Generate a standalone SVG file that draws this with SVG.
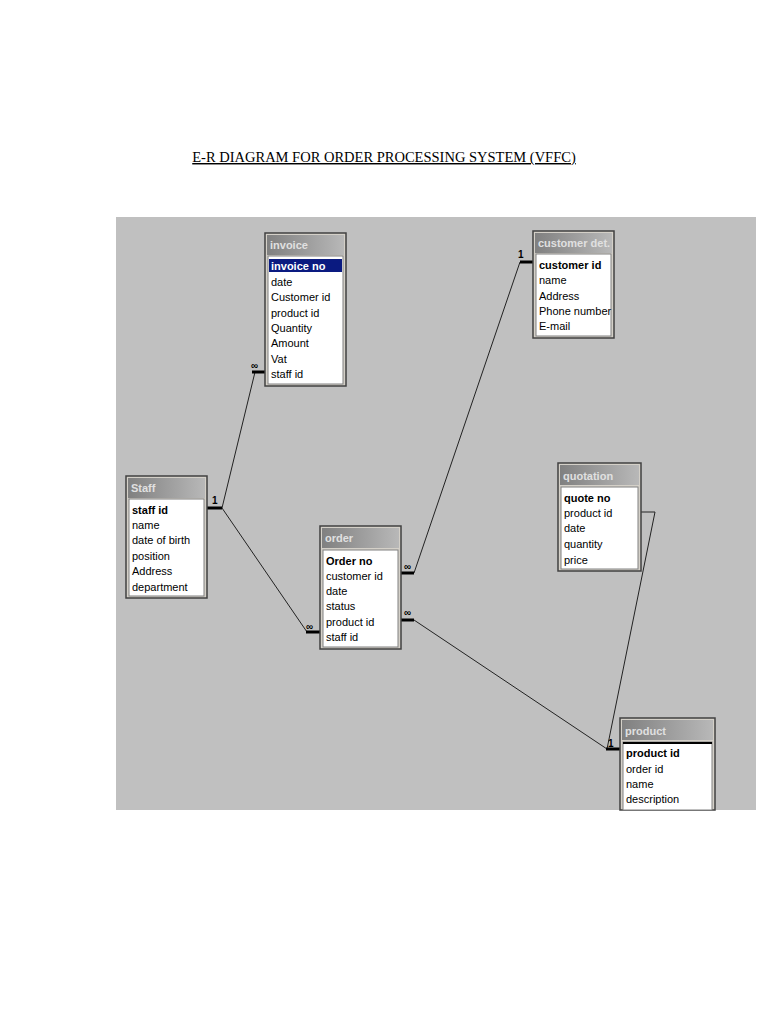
<svg xmlns="http://www.w3.org/2000/svg" width="768" height="1024" viewBox="0 0 768 1024">
<style>
.t{font-family:"Liberation Sans",Arial,sans-serif;font-size:11px;fill:#000}
.b{font-weight:bold}
.h{font-family:"Liberation Sans",Arial,sans-serif;font-size:11px;fill:#e0e0e0;font-weight:bold}
.card{fill:#d4d0c8;stroke:#404040;stroke-width:1.5}
.list{fill:#fff;stroke:#808080;stroke-width:1}
.ln{stroke:#222;stroke-width:1;fill:none}
.stub{stroke:#000;stroke-width:3}
.m{font-family:"Liberation Sans",Arial,sans-serif;font-size:10px;font-weight:bold;fill:#000}
</style>
<defs>
<linearGradient id="g" x1="0" x2="1"><stop offset="0" stop-color="#808080"/><stop offset="1" stop-color="#b8b8b8"/></linearGradient>
</defs>
<rect width="768" height="1024" fill="#fff"/>
<text x="384" y="162" text-anchor="middle" font-family="Liberation Serif,serif" font-size="14.5" text-decoration="underline">E-R DIAGRAM FOR ORDER PROCESSING SYSTEM (VFFC)</text>
<rect x="116" y="217" width="640" height="593" fill="#c0c0c0"/>
<g id="connectors">
<path class="ln" d="M222,508 L255,372"/>
<path class="ln" d="M222,508 L307,632"/>
<path class="ln" d="M414,573 L520,262"/>
<path class="ln" d="M414,620 L607,749"/>
<path class="ln" d="M641,512 L655,512 L607,749"/>
<line class="stub" x1="207" y1="508" x2="222" y2="508"/>
<line class="stub" x1="252" y1="372" x2="266" y2="372"/>
<line class="stub" x1="306" y1="632" x2="320" y2="632"/>
<line class="stub" x1="401" y1="573" x2="414" y2="573"/>
<line class="stub" x1="520" y1="262" x2="533" y2="262"/>
<line class="stub" x1="401" y1="620" x2="414" y2="620"/>
<line class="stub" x1="606" y1="749" x2="620" y2="749"/>
<text class="m" x="212" y="504">1</text>
<text class="m" x="251" y="369">∞</text>
<text class="m" x="306" y="630">∞</text>
<text class="m" x="404" y="570">∞</text>
<text class="m" x="518" y="258">1</text>
<text class="m" x="404" y="616">∞</text>
<text class="m" x="608" y="747">1</text>
</g>
<g id="invoice">
<rect class="card" x="265" y="233" width="81" height="153"/>
<rect x="267" y="235" width="77" height="20" fill="url(#g)"/>
<text class="h" x="270" y="249">invoice</text>
<rect class="list" x="268" y="256" width="75" height="128"/>
<rect x="269" y="259" width="73" height="13" fill="#0a1a80"/>
<text class="t b" x="271" y="270" fill="#fff" style="fill:#fff">invoice no</text>
<text class="t" x="271" y="286">date</text>
<text class="t" x="271" y="301">Customer id</text>
<text class="t" x="271" y="317">product id</text>
<text class="t" x="271" y="332">Quantity</text>
<text class="t" x="271" y="347">Amount</text>
<text class="t" x="271" y="363">Vat</text>
<text class="t" x="271" y="378">staff id</text>
</g>
<g id="customer">
<rect class="card" x="533" y="231" width="81" height="107"/>
<rect x="535" y="233" width="77" height="20" fill="url(#g)"/>
<text class="h" x="538" y="247">customer det.</text>
<rect class="list" x="536" y="254" width="75" height="82"/>
<text class="t b" x="539" y="269">customer id</text>
<text class="t" x="539" y="284">name</text>
<text class="t" x="539" y="300">Address</text>
<text class="t" x="539" y="315">Phone number</text>
<text class="t" x="539" y="330">E-mail</text>
</g>
<g id="staff">
<rect class="card" x="126" y="476" width="81" height="122"/>
<rect x="128" y="478" width="77" height="20" fill="url(#g)"/>
<text class="h" x="131" y="492">Staff</text>
<rect class="list" x="129" y="499" width="75" height="97"/>
<text class="t b" x="132" y="514">staff id</text>
<text class="t" x="132" y="529">name</text>
<text class="t" x="132" y="544">date of birth</text>
<text class="t" x="132" y="560">position</text>
<text class="t" x="132" y="575">Address</text>
<text class="t" x="132" y="591">department</text>
</g>
<g id="order">
<rect class="card" x="320" y="526" width="81" height="123"/>
<rect x="322" y="528" width="77" height="20" fill="url(#g)"/>
<text class="h" x="325" y="542">order</text>
<rect class="list" x="323" y="550" width="75" height="97"/>
<text class="t b" x="326" y="565">Order no</text>
<text class="t" x="326" y="580">customer id</text>
<text class="t" x="326" y="595">date</text>
<text class="t" x="326" y="610">status</text>
<text class="t" x="326" y="626">product id</text>
<text class="t" x="326" y="641">staff id</text>
</g>
<g id="quotation">
<rect class="card" x="558" y="463" width="83" height="108"/>
<rect x="560" y="465" width="79" height="20" fill="url(#g)"/>
<text class="h" x="563" y="480">quotation</text>
<rect class="list" x="561" y="487" width="77" height="82"/>
<text class="t b" x="564" y="502">quote no</text>
<text class="t" x="564" y="517">product id</text>
<text class="t" x="564" y="532">date</text>
<text class="t" x="564" y="548">quantity</text>
<text class="t" x="564" y="564">price</text>
</g>
<g id="product">
<rect class="card" x="620" y="718" width="95" height="92"/>
<rect x="622" y="720" width="91" height="20" fill="url(#g)"/>
<text class="h" x="625" y="735">product</text>
<rect class="list" x="623" y="742" width="89" height="68"/>
<line x1="623" y1="743" x2="712" y2="743" stroke="#000" stroke-width="2"/>
<text class="t b" x="626" y="757">product id</text>
<text class="t" x="626" y="773">order id</text>
<text class="t" x="626" y="788">name</text>
<text class="t" x="626" y="803">description</text>
</g>
</svg>
